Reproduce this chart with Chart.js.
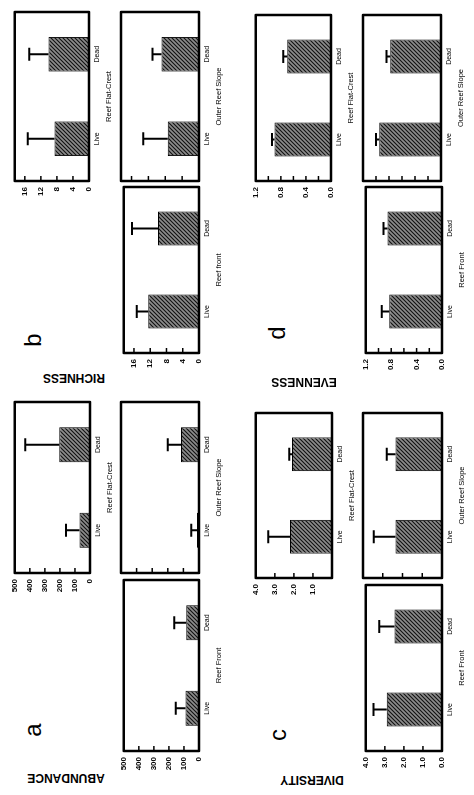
<!DOCTYPE html>
<html lang="en">
<head>
<meta charset="UTF-8">
<title>Abundance, richness, diversity and evenness</title>
<script src="https://cdn.jsdelivr.net/npm/chart.js"></script>
<style>
    body {
        margin: 0;
        background: #fff;
        overflow: hidden;
        font-family: 'Liberation Sans', Arial, sans-serif;
    }

    /* the figure is laid out upright and turned a quarter turn to the left */
    #fig {
        position: absolute;
        left: 0;
        top: 0;
        width: 795px;
        height: 474px;
        transform-origin: 0 0;
        transform: translateY(795px) rotate(-90deg);
    }

    #fig canvas {
        position: absolute;
    }

    .letter {
        position: absolute;
        font-size: 24px;
        color: #000;
        transform: translate(-50%, -50%);
    }

    .ytitle {
        position: absolute;
        font-size: 12px;
        font-weight: bold;
        color: #000;
        white-space: nowrap;
        transform: translate(-50%, -50%) rotate(-90deg);
    }
</style>
</head>
<body>
<div id="fig"></div>

<script>
    // data: [Live, Dead], bar = mean, err = upper error bar length
    const groups = ['Live', 'Dead'];

    const abundanceFront = [90, 85];
    const abundanceFrontErr = [65, 80];
    const abundanceCrest = [70, 205];
    const abundanceCrestErr = [90, 225];
    const abundanceSlope = [13, 115];
    const abundanceSlopeErr = [37, 85];

    const richnessFront = [12.5, 10.1];
    const richnessFrontErr = [2.8, 6.4];
    const richnessCrest = [8.6, 10.1];
    const richnessCrestErr = [6.7, 4.8];
    const richnessSlope = [7.4, 8.9];
    const richnessSlopeErr = [5.8, 2.1];

    const diversityFront = [2.9, 2.5];
    const diversityFrontErr = [0.7, 0.8];
    const diversityCrest = [2.2, 2.1];
    const diversityCrestErr = [1.15, 0.15];
    const diversitySlope = [2.35, 2.35];
    const diversitySlopeErr = [1.1, 0.45];

    const evennessFront = [0.83, 0.86];
    const evennessFrontErr = [0.12, 0.06];
    const evennessCrest = [0.90, 0.70];
    const evennessCrestErr = [0.04, 0.06];
    const evennessSlope = [0.95, 0.78];
    const evennessSlopeErr = [0.05, 0.06];

    // axis ticks
    const abundanceTicks = [0, 100, 200, 300, 400, 500];
    const richnessTicks = [0, 4, 8, 12, 16];
    const diversityTicks = [0, 1, 2, 3, 4];
    const diversityCrestTicks = [1, 2, 3, 4];
    const evennessTicks = [0, 0.4, 0.8, 1.2];
    const evennessMarks = [0.2, 0.4, 0.6, 0.8, 1.0];

    const fig = document.getElementById('fig');
    Chart.defaults.font.family = "'Liberation Sans', Arial, sans-serif";
    Chart.defaults.color = '#000';

    function makeHatch() {
        const c = document.createElement('canvas');
        c.width = 4;
        c.height = 4;
        const g = c.getContext('2d');
        g.fillStyle = '#8c8c8c';
        g.fillRect(0, 0, 4, 4);
        g.strokeStyle = '#111';
        g.lineWidth = 1.1;
        g.beginPath();
        g.moveTo(0, 4); g.lineTo(4, 0);
        g.moveTo(-1, 1); g.lineTo(1, -1);
        g.moveTo(3, 5); g.lineTo(5, 3);
        g.stroke();
        return g.createPattern(c, 'repeat');
    }
    const hatch = makeHatch();

    // box around the plot area, inward tick marks, one-sided error bars
    const framePlugin = {
        id: 'frame',
        afterDatasetsDraw(chart) {
            const { ctx, chartArea: a, scales: { y } } = chart;
            const ds = chart.data.datasets[0];
            const meta = chart.getDatasetMeta(0);
            ctx.save();
            ctx.strokeStyle = '#000';

            ctx.lineWidth = 2;
            meta.data.forEach((bar, i) => {
                const top = y.getPixelForValue(ds.data[i] + ds.err[i]);
                ctx.beginPath();
                ctx.moveTo(bar.x, bar.y);
                ctx.lineTo(bar.x, top);
                ctx.moveTo(bar.x - 6.5, top);
                ctx.lineTo(bar.x + 6.5, top);
                ctx.stroke();
            });

            ctx.lineWidth = 1.5;
            ds.marks.forEach(v => {
                const py = y.getPixelForValue(v);
                if (py > a.top + 2 && py < a.bottom - 2) {
                    ctx.beginPath();
                    ctx.moveTo(a.left, py);
                    ctx.lineTo(a.left + 5, py);
                    ctx.stroke();
                }
            });

            ctx.lineWidth = 2.5;
            ctx.lineJoin = 'round';
            ctx.strokeRect(a.left, a.top, a.right - a.left, a.bottom - a.top);
            ctx.restore();
        }
    };

    const AXIS_W = 30, PAD_T = 8, PAD_R = 4, XAXIS_H = 28;

    function drawChart(box, site, values, errs, max, labelTicks, marks, decimals) {
        const canvas = document.createElement('canvas');
        canvas.width = AXIS_W + box.w + PAD_R;
        canvas.height = PAD_T + box.h + XAXIS_H;
        canvas.style.left = (box.x - AXIS_W) + 'px';
        canvas.style.top = (box.y - PAD_T) + 'px';
        fig.appendChild(canvas);

        return new Chart(canvas, {
            type: 'bar',
            data: {
                labels: groups,
                datasets: [{
                    data: values,
                    err: errs,
                    marks: marks,
                    backgroundColor: hatch,
                    borderColor: '#000',
                    borderWidth: 1,
                    barPercentage: 0.41,
                    categoryPercentage: 1
                }]
            },
            options: {
                responsive: false,
                animation: false,
                layout: { padding: { top: PAD_T, right: PAD_R, left: 0, bottom: 0 } },
                plugins: {
                    legend: { display: false },
                    tooltip: { enabled: false }
                },
                scales: {
                    x: {
                        grid: { display: false, drawTicks: false },
                        border: { display: false },
                        ticks: { font: { size: 7 }, padding: 4, maxRotation: 0 },
                        title: {
                            display: true,
                            text: site,
                            font: { size: 7.5 },
                            padding: { top: 0, bottom: 3.5 }
                        },
                        afterFit: s => { s.height = XAXIS_H; }
                    },
                    y: {
                        min: 0,
                        max: max,
                        grid: { display: false, drawTicks: false },
                        border: { display: false },
                        ticks: {
                            display: labelTicks !== null,
                            font: { size: 8, weight: 'bold' },
                            padding: 6,
                            callback: v => Number(v).toFixed(decimals)
                        },
                        afterBuildTicks: s => {
                            s.ticks = (labelTicks || []).map(v => ({ value: v }));
                        },
                        afterFit: s => { s.width = AXIS_W; }
                    }
                }
            },
            plugins: [framePlugin]
        });
    }

    function addText(cls, text, x, y) {
        const d = document.createElement('div');
        d.className = cls;
        d.textContent = text;
        d.style.left = x + 'px';
        d.style.top = y + 'px';
        fig.appendChild(d);
    }

    // a: abundance
    drawChart({ x: 222, y: 12, w: 171, h: 78 }, 'Reef Flat-Crest', abundanceCrest, abundanceCrestErr, 500, abundanceTicks, abundanceTicks, 0);
    drawChart({ x: 222, y: 121, w: 171, h: 78 }, 'Outer Reef Slope', abundanceSlope, abundanceSlopeErr, 500, null, abundanceTicks, 0);
    drawChart({ x: 44, y: 121, w: 171, h: 78 }, 'Reef Front', abundanceFront, abundanceFrontErr, 500, abundanceTicks, abundanceTicks, 0);

    // b: richness
    drawChart({ x: 614, y: 12, w: 169, h: 77 }, 'Reef Flat-Crest', richnessCrest, richnessCrestErr, 18.5, richnessTicks, richnessTicks, 0);
    drawChart({ x: 614, y: 121, w: 169, h: 78 }, 'Outer Reef Slope', richnessSlope, richnessSlopeErr, 18.5, null, richnessTicks, 0);
    drawChart({ x: 442, y: 121, w: 166, h: 78 }, 'Reef front', richnessFront, richnessFrontErr, 18.5, richnessTicks, richnessTicks, 0);

    // c: diversity
    drawChart({ x: 217, y: 253, w: 165, h: 79 }, 'Reef Flat-Crest', diversityCrest, diversityCrestErr, 4, diversityCrestTicks, diversityTicks, 1);
    drawChart({ x: 217, y: 363, w: 165, h: 79 }, 'Outer Reef Slope', diversitySlope, diversitySlopeErr, 4, null, diversityTicks, 1);
    drawChart({ x: 44, y: 363, w: 166, h: 79 }, 'Reef Front', diversityFront, diversityFrontErr, 4, diversityTicks, diversityTicks, 1);

    // d: evenness
    drawChart({ x: 614, y: 253, w: 166, h: 78 }, 'Reef Flat-Crest', evennessCrest, evennessCrestErr, 1.2, evennessTicks, evennessMarks, 1);
    drawChart({ x: 614, y: 363, w: 166, h: 78 }, 'Outer Reef Slope', evennessSlope, evennessSlopeErr, 1.2, null, evennessMarks, 1);
    drawChart({ x: 442, y: 363, w: 166, h: 79 }, 'Reef Front', evennessFront, evennessFrontErr, 1.2, evennessTicks, evennessMarks, 1);

    addText('letter', 'a', 65, 33);
    addText('letter', 'b', 455, 33);
    addText('letter', 'c', 60, 278);
    addText('letter', 'd', 462, 277);

    addText('ytitle', 'ABUNDANCE', 17, 66);
    addText('ytitle', 'RICHNESS', 417, 74);
    addText('ytitle', 'DIVERSITY', 15, 312);
    addText('ytitle', 'EVENNESS', 413, 304);
</script>
</body>
</html>
